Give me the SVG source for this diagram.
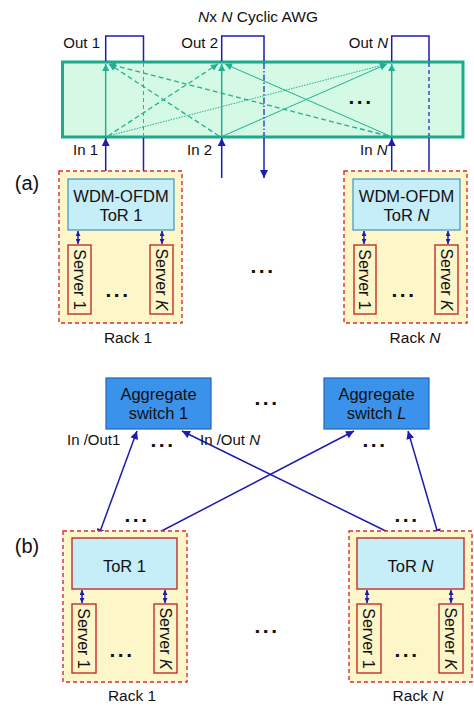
<svg xmlns="http://www.w3.org/2000/svg" width="474" height="712" viewBox="0 0 474 712">
<style>
text{font-family:"Liberation Sans",Arial,sans-serif;fill:#111}
.t16{font-size:16.5px;text-anchor:middle}
.lbl{font-size:15px}
.rl{font-size:15.5px;text-anchor:middle}
.sv{font-size:16px;text-anchor:middle}
.dots{font-size:21px;font-weight:bold;text-anchor:middle;letter-spacing:2.5px}
.rack{fill:#fdf6c9;stroke:#d8302c;stroke-width:1.4;stroke-dasharray:4,3}
.tora{fill:#c6eef8;stroke:#3a97c8;stroke-width:1.2}
.torb{fill:#c6eef8;stroke:#c0302a;stroke-width:1.4}
.srv{fill:#fdf6c9;stroke:#c0302a;stroke-width:1.4}
.agg{fill:#3b92ea;stroke:#2266b8;stroke-width:1.2}
.bl{stroke:#1c1cb0;stroke-width:1.5;fill:none}
.bld{stroke:#1c1cb0;stroke-width:1.2;fill:none;stroke-dasharray:4,3}
.tl{stroke:#22b094;stroke-width:1.5;fill:none}
.td{stroke:#22b094;stroke-width:1.3;fill:none;stroke-dasharray:5,3}
.tdot{stroke:#22b094;stroke-width:1;fill:none;stroke-dasharray:1.5,1.2}
.ts{stroke:#22b094;stroke-width:1;fill:none}
.it{font-style:italic}
</style>
<defs>
<marker id="ab" viewBox="0 0 10 10" refX="10" refY="5" markerWidth="10" markerHeight="8" markerUnits="userSpaceOnUse" orient="auto-start-reverse"><path d="M0,0 L10,5 L0,10 z" fill="#1c1cb0"/></marker>
<marker id="as" viewBox="0 0 10 10" refX="10" refY="5" markerWidth="5" markerHeight="5" markerUnits="userSpaceOnUse" orient="auto-start-reverse"><path d="M0,0 L10,5 L0,10 z" fill="#1c1cb0"/></marker>
<marker id="at" viewBox="0 0 10 10" refX="10" refY="5" markerWidth="8" markerHeight="7" markerUnits="userSpaceOnUse" orient="auto"><path d="M0,0 L10,5 L0,10 z" fill="#22b094"/></marker>
</defs>

<!-- (a) -->
<text x="258" y="22" class="t16" style="font-size:15.5px"><tspan class="it">N</tspan>x <tspan class="it">N</tspan> Cyclic AWG</text>

<g id="awg">
<rect x="62.5" y="62" width="400.5" height="75" fill="#d4f9e4" stroke="#1aaa8c" stroke-width="3"/>
<text x="361" y="104" class="dots">...</text>
</g>

<g id="connectors-a">
<line x1="105.7" y1="136" x2="105.7" y2="64" class="tl" marker-end="url(#at)"/>
<line x1="221.7" y1="136" x2="221.7" y2="64" class="tl" marker-end="url(#at)"/>
<line x1="391.7" y1="136" x2="391.7" y2="64" class="tl" marker-end="url(#at)"/>
<line x1="108" y1="136" x2="218" y2="64" class="td" marker-end="url(#at)"/>
<line x1="108" y1="136" x2="387" y2="64" class="tdot" marker-end="url(#at)"/>
<line x1="223" y1="136" x2="387" y2="64" class="ts" marker-end="url(#at)"/>
<line x1="219" y1="136" x2="109" y2="64" class="td" marker-end="url(#at)"/>
<line x1="388" y1="136" x2="109" y2="64" class="td" marker-end="url(#at)"/>
<line x1="390" y1="136" x2="225" y2="64" class="ts" marker-end="url(#at)"/>

<path d="M105.7,61 V36 H143.5 V61" class="bl"/>
<line x1="143.5" y1="63" x2="143.5" y2="136" class="bld" style="stroke:#7a80c8;stroke-width:1"/>
<line x1="143.5" y1="138" x2="143.5" y2="179" class="bl" marker-end="url(#ab)"/>
<line x1="105.7" y1="179" x2="105.7" y2="138" class="bl" marker-end="url(#ab)"/>

<path d="M221.7,61 V36 H264 V61" class="bl"/>
<line x1="264" y1="63" x2="264" y2="136" class="bld" style="stroke-dasharray:6,2,1.5,2"/>
<line x1="264" y1="138" x2="264" y2="178" class="bl" marker-end="url(#ab)"/>
<line x1="221.7" y1="178" x2="221.7" y2="138" class="bl" marker-end="url(#ab)"/>

<path d="M391.7,61 V36 H429 V61" class="bl"/>
<line x1="429" y1="63" x2="429" y2="136" class="bld"/>
<line x1="429" y1="138" x2="429" y2="179" class="bl" marker-end="url(#ab)"/>
<line x1="391.7" y1="179" x2="391.7" y2="138" class="bl" marker-end="url(#ab)"/>
</g>

<text x="100" y="48" class="lbl" text-anchor="end">Out 1</text>
<text x="218" y="48" class="lbl" text-anchor="end">Out 2</text>
<text x="388" y="48" class="lbl" text-anchor="end">Out <tspan class="it">N</tspan></text>
<text x="73" y="155" class="lbl">In 1</text>
<text x="187" y="155" class="lbl">In 2</text>
<text x="360" y="155" class="lbl">In <tspan class="it">N</tspan></text>

<text x="27" y="190" style="font-size:20px" text-anchor="middle">(a)</text>

<g id="rack-a1">
<rect x="59" y="171" width="123" height="152" class="rack"/>
<rect x="68" y="179" width="106" height="51" class="tora"/>
<text x="121" y="202" class="t16">WDM-OFDM</text>
<text x="121" y="221" class="t16">ToR 1</text>
<rect x="68" y="245" width="23" height="69" class="srv"/>
<rect x="150" y="245" width="23" height="69" class="srv"/>
<text transform="translate(79.5,279.5) rotate(90)" y="5.7" class="sv">Server 1</text>
<text transform="translate(161.5,279.5) rotate(90)" y="5.7" class="sv">Server <tspan class="it">K</tspan></text>
<line x1="78" y1="231" x2="78" y2="244" class="bl" marker-start="url(#as)" marker-end="url(#as)"/>
<line x1="162" y1="231" x2="162" y2="244" class="bl" marker-start="url(#as)" marker-end="url(#as)"/>
<text x="118" y="297" class="dots">...</text>
<text x="128" y="343" class="rl">Rack 1</text>
</g>

<g id="rack-aN">
<rect x="344" y="171" width="123" height="152" class="rack"/>
<rect x="353" y="179" width="107" height="51" class="tora"/>
<text x="406.5" y="202" class="t16">WDM-OFDM</text>
<text x="406.5" y="221" class="t16">ToR <tspan class="it">N</tspan></text>
<rect x="354" y="245" width="22" height="69" class="srv"/>
<rect x="435" y="245" width="23" height="69" class="srv"/>
<text transform="translate(365,279.5) rotate(90)" y="5.7" class="sv">Server 1</text>
<text transform="translate(446.5,279.5) rotate(90)" y="5.7" class="sv">Server <tspan class="it">K</tspan></text>
<line x1="364" y1="231" x2="364" y2="244" class="bl" marker-start="url(#as)" marker-end="url(#as)"/>
<line x1="448" y1="231" x2="448" y2="244" class="bl" marker-start="url(#as)" marker-end="url(#as)"/>
<text x="404" y="297" class="dots">...</text>
<text x="415" y="343" class="rl">Rack <tspan class="it">N</tspan></text>
</g>

<text x="263" y="273" class="dots">...</text>

<!-- (b) -->
<g id="agg1">
<rect x="106" y="378" width="105" height="51" class="agg"/>
<text x="158.5" y="400" class="t16">Aggregate</text>
<text x="158.5" y="419" class="t16">switch 1</text>
</g>
<g id="aggL">
<rect x="324" y="378" width="105" height="51" class="agg"/>
<text x="376.5" y="400" class="t16">Aggregate</text>
<text x="376.5" y="419" class="t16">switch <tspan class="it">L</tspan></text>
</g>
<text x="267" y="405" class="dots">...</text>

<g id="connectors-b">
<line x1="137" y1="431" x2="98" y2="537" class="bl" marker-start="url(#ab)" marker-end="url(#ab)"/>
<line x1="182" y1="431" x2="398" y2="537" class="bl" marker-start="url(#ab)" marker-end="url(#ab)"/>
<line x1="354" y1="431" x2="150" y2="537" class="bl" marker-start="url(#ab)" marker-end="url(#ab)"/>
<line x1="408" y1="431" x2="439" y2="537" class="bl" marker-start="url(#ab)" marker-end="url(#ab)"/>
</g>

<text x="67" y="445" class="lbl">In /Out1</text>
<text x="200" y="445" class="lbl">In /Out <tspan class="it">N</tspan></text>
<text x="163" y="447" class="dots">...</text>
<text x="375" y="447" class="dots">...</text>
<text x="137" y="522" class="dots">...</text>
<text x="407" y="522" class="dots">...</text>

<text x="27" y="553" style="font-size:20px" text-anchor="middle">(b)</text>

<g id="rack-b1">
<rect x="63" y="531" width="124" height="151" class="rack"/>
<rect x="72" y="538" width="105" height="51" class="torb"/>
<text x="124.5" y="572" class="t16">ToR 1</text>
<rect x="72" y="604" width="24" height="69" class="srv"/>
<rect x="154" y="604" width="23" height="69" class="srv"/>
<text transform="translate(84,638.5) rotate(90)" y="5.7" class="sv">Server 1</text>
<text transform="translate(165.5,638.5) rotate(90)" y="5.7" class="sv">Server <tspan class="it">K</tspan></text>
<line x1="82" y1="590" x2="82" y2="603" class="bl" marker-start="url(#as)" marker-end="url(#as)"/>
<line x1="165" y1="590" x2="165" y2="603" class="bl" marker-start="url(#as)" marker-end="url(#as)"/>
<text x="122" y="657" class="dots">...</text>
<text x="132" y="701" class="rl">Rack 1</text>
</g>

<g id="rack-bN">
<rect x="349" y="531" width="123" height="151" class="rack"/>
<rect x="357" y="538" width="107" height="51" class="torb"/>
<text x="410.5" y="572" class="t16">ToR <tspan class="it">N</tspan></text>
<rect x="357" y="604" width="24" height="69" class="srv"/>
<rect x="439" y="604" width="24" height="69" class="srv"/>
<text transform="translate(369,638.5) rotate(90)" y="5.7" class="sv">Server 1</text>
<text transform="translate(451,638.5) rotate(90)" y="5.7" class="sv">Server <tspan class="it">K</tspan></text>
<line x1="367" y1="590" x2="367" y2="603" class="bl" marker-start="url(#as)" marker-end="url(#as)"/>
<line x1="451" y1="590" x2="451" y2="603" class="bl" marker-start="url(#as)" marker-end="url(#as)"/>
<text x="407" y="657" class="dots">...</text>
<text x="418" y="701" class="rl">Rack <tspan class="it">N</tspan></text>
</g>

<text x="267" y="633" class="dots">...</text>
</svg>
